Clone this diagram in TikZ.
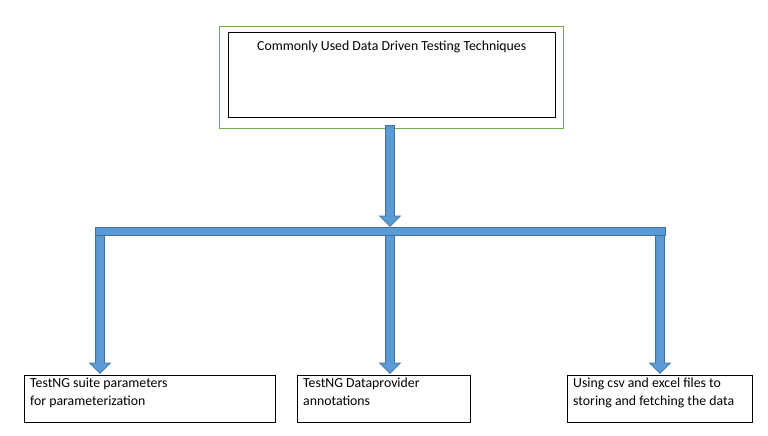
\documentclass[tikz,border=0pt]{standalone}
\usepackage{fontspec}
\setmainfont{Carlito}
\usetikzlibrary{shapes.arrows,positioning}
\definecolor{arrowfill}{RGB}{91,155,213}
\definecolor{arrowedge}{RGB}{65,113,156}
\definecolor{boxgreen}{RGB}{112,173,71}
\begin{document}
\begin{tikzpicture}[x=1pt,y=-1pt,
  box/.style={draw,thin,anchor=north west,align=left,inner sep=0pt},
  fat/.style={single arrow,draw=arrowedge,fill=arrowfill,thick,rotate=-90,
    minimum width=20pt,single arrow head extend=6pt,single arrow tip angle=90,
    inner xsep=0pt,inner ysep=4pt,anchor=tail}]
  \useasboundingbox (0,0) rectangle (768,436);
  \tikzstyle{every node}=[font=\fontsize{13.8pt}{18pt}\selectfont]
  % heading
  \draw[boxgreen] (219,26) rectangle (563,128);
  \node[box,minimum width=327pt,minimum height=85pt] (top) at (228,32) {};
  \node[below=5pt of top.north] (title) {Commonly Used Data Driven Testing Techniques};
  % bar and arrows
  \node[draw=arrowedge,fill=arrowfill,thick,minimum width=570pt,minimum height=8pt,
        inner sep=0pt,anchor=north west] (bar) at (95,227) {};
  \node[fat,minimum height=101pt] (a0) at (390,125) {};
  \node[fat,minimum height=138pt] (a1) at (100,235) {};
  \node[fat,minimum height=138pt] (a2) at (390,235) {};
  \node[fat,minimum height=138pt] (a3) at (660,235) {};
  % bottom boxes
  \node[box,minimum width=251pt,minimum height=47pt] (b1) at (24,375) {};
  \node[anchor=north west,align=left,inner sep=0pt] at (30,378)
    {TestNG suite parameters\\for parameterization};
  \node[box,minimum width=173pt,minimum height=47pt] (b2) at (297,375) {};
  \node[anchor=north west,align=left,inner sep=0pt] at (303,378)
    {TestNG Dataprovider\\annotations};
  \node[box,minimum width=185pt,minimum height=47pt] (b3) at (567,375) {};
  \node[anchor=north west,align=left,inner sep=0pt] at (573,378)
    {Using csv and excel files to\\storing and fetching the data};
\end{tikzpicture}
\end{document}
